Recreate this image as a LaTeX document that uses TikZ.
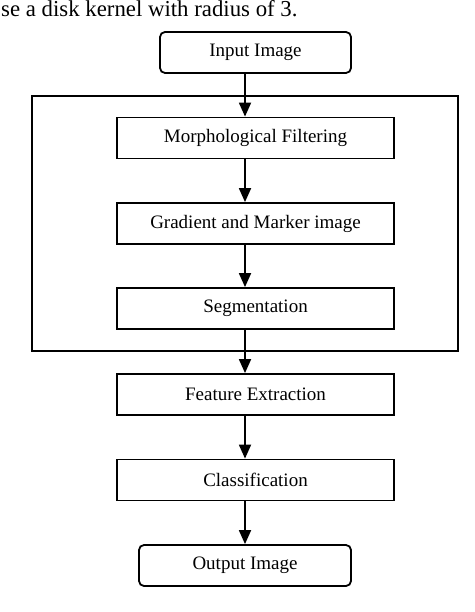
\documentclass[tikz,border=0pt]{standalone}
\usepackage{fontspec}
\setmainfont{Liberation Serif}
\usetikzlibrary{arrows.meta}
\begin{document}
\begin{tikzpicture}[x=1pt,y=-1pt,
    stage/.style={draw, line width=1.8pt, minimum width=277pt, minimum height=41pt, inner sep=0pt, font=\fontsize{19}{22}\selectfont},
    io/.style={stage, rounded corners=5pt},
    flow/.style={line width=1.8pt, -{Triangle[length=14pt,width=12pt]}}]
    \useasboundingbox (0,0) rectangle (474,612);
    \node[anchor=base west, inner sep=0pt, font=\fontsize{22.8}{26}\selectfont] (caption) at (1,17) {se a disk kernel with radius of 3.};

    \node[draw, line width=1.8pt, minimum width=426pt, minimum height=255pt] (group) at (245,223.5) {};

    \node[io, minimum width=191pt] (input) at (255.5,52.5) {Input Image};
    \node[stage] (morph) at (255.5,138) {Morphological Filtering};
    \node[stage] (marker) at (255.5,223.5) {Gradient and Marker image};
    \node[stage] (seg) at (255.5,308.5) {Segmentation};
    \node[stage] (feat) at (255.5,394.5) {Feature Extraction};
    \node[stage] (class) at (255.5,480) {Classification};
    \node[io, minimum width=212pt] (output) at (245,565.5) {Output Image};

    \coordinate (axis) at (245,0);
    \draw[flow] (input.south -| axis) -- (morph.north -| axis);
    \draw[flow] (morph.south -| axis) -- (marker.north -| axis);
    \draw[flow] (marker.south -| axis) -- (seg.north -| axis);
    \draw[flow] (seg.south -| axis) -- (feat.north -| axis);
    \draw[flow] (feat.south -| axis) -- (class.north -| axis);
    \draw[flow] (class.south -| axis) -- (output.north -| axis);
\end{tikzpicture}
\end{document}
